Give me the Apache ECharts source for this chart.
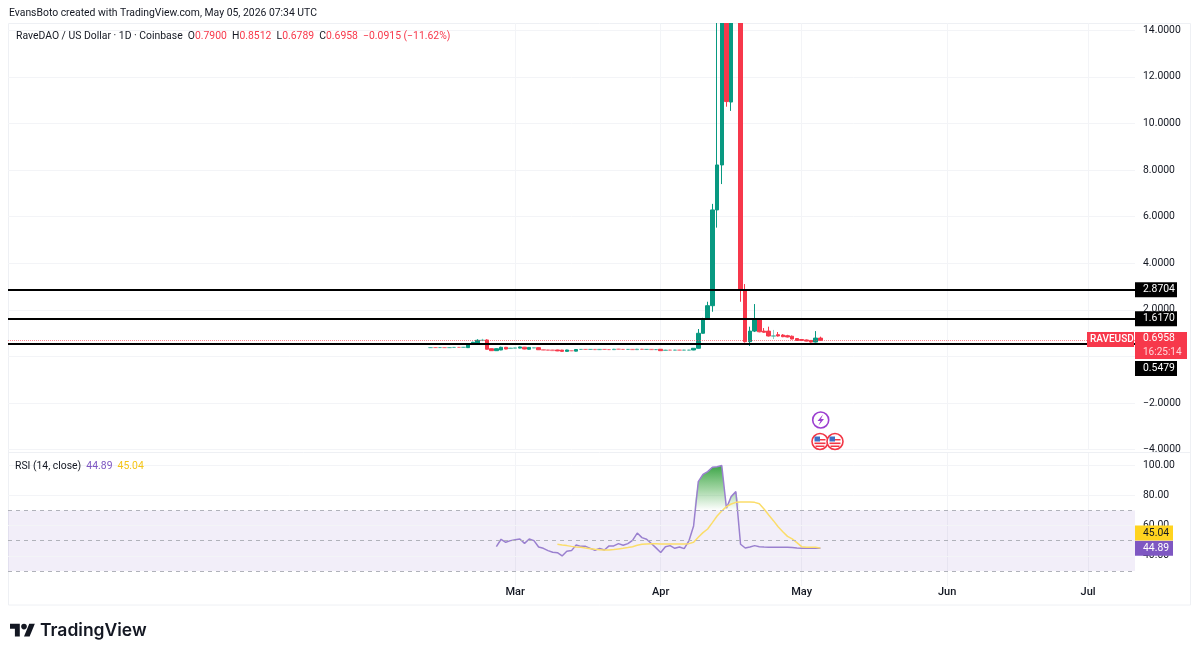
<!DOCTYPE html>
<html>
<head>
<meta charset="utf-8">
<title>RAVEUSD</title>
<script src="https://cdn.jsdelivr.net/npm/echarts@6/dist/echarts.min.js"></script>
<style>
  html, body { margin: 0; padding: 0; background: #fff; }
  #chart { width: 1200px; height: 657px; }
</style>
</head>
<body>
<div id="chart"></div>
<script>
// daily candles, 2026-02-11 to 2026-05-05 (bars above 14.3 run off the top of the pane)
const candleStart = '2026-02-11';
const opens = [
  .375, .385, .38, .385, .375, .385, .395, .39, .38, .536, .57, .695, .71, .335, .25, .28, .395, .34,
  .35, .36, .40, .31, .36, .38, .30, .29, .285, .28, .275, .22, .25, .23, .30, .31, .30, .31, .29, .31,
  .30, .29, .32, .31, .30, .31, .29, .32, .30, .31, .29, .31, .26, .28, .27, .28, .27, .27, .28, .352,
  .996, 1.61, 2.18, 6.29, 8.22, 16, 10.92, 17, 22, 2.87, .635, 1.09, 1.61, 1.09, 1.09, .87, .936, .92,
  .893, .87, .77, .73, .71, .69, .62, .79
];
const closes = [
  .385, .38, .385, .375, .385, .395, .39, .40, .536, .61, .695, .70, .31, .25, .335, .395, .32, .37,
  .375, .41, .32, .39, .38, .29, .265, .26, .25, .24, .22, .28, .24, .30, .31, .30, .31, .29, .31, .30,
  .29, .32, .31, .30, .31, .29, .32, .30, .31, .29, .30, .25, .28, .27, .28, .27, .28, .28, .352, .996,
  1.61, 2.18, 6.29, 8.22, 16, 10.94, 17, 22, 2.87, .635, 1.09, 1.61, 1.06, 1.04, .88, .89, .88, .85,
  .837, .75, .69, .69, .66, .62, .79, .6958
];
const highs = [
  .39, .395, .39, .39, .39, .40, .405, .41, .55, .63, .74, .76, .74, .34, .35, .42, .41, .38,
  .385, .42, .41, .40, .39, .39, .31, .30, .295, .29, .285, .29, .26, .31, .32, .32, .32, .32, .32, .32,
  .31, .33, .33, .32, .32, .32, .33, .33, .32, .32, .31, .32, .29, .29, .29, .29, .29, .29, .36, 1.18,
  1.66, 2.35, 6.55, 15, 17, 17, 18, 24, 24, 3.11, 1.28, 2.25, 1.63, 1.22, 1.28, 1.14, 1.05, .96,
  .93, .90, .79, .75, .73, .70, 1.09, .8512
];
const lows = [
  .37, .37, .375, .37, .37, .38, .385, .385, .37, .53, .56, .66, .30, .24, .24, .27, .31, .33,
  .34, .35, .31, .30, .35, .28, .255, .25, .24, .23, .21, .21, .23, .22, .29, .29, .29, .28, .28, .29,
  .28, .28, .30, .29, .29, .28, .28, .29, .29, .28, .28, .24, .25, .26, .26, .26, .26, .26, .27, .34,
  .98, 1.58, 1.92, 5.53, 7.40, 10.72, 10.54, 16, 2.35, .60, .45, 1.05, 1.04, 1.02, .86, .75, .86, .83,
  .82, .74, .68, .68, .65, .60, .60, .6789
];

// RSI (14) and its moving average
const rsiStart = '2026-02-25';
const rsiValues = [
  46.0, 50.9, 48.9, 50.0, 50.6, 51.1, 48.2, 51.1, 50.0, 45.8, 44.9, 43.4, 42.3, 42.05, 39.85, 43.0, 43.4,
  47.1, 46.2, 46.2, 44.9, 43.6, 44.9, 43.8, 46.5, 46.5, 48.0, 46.9, 48.0, 50.2, 55.0, 52.0, 50.9, 48.1, 45.2,
  42.2, 46.0, 46.7, 44.9, 45.8, 44.7, 49.8, 59.7, 89.0, 93.8, 95.6, 98.5, 98.9, 99.6, 71.4, 79.1, 82.4, 47.6,
  45.1, 45.8, 46.7, 46.0, 45.8, 45.7, 45.7, 45.6, 45.6, 45.6, 45.4, 45.1, 44.9, 44.9, 44.9, 45.0, 44.89
];
const maStart = '2026-03-10';
const maValues = [
  47.6, 47.1, 46.7, 46.2, 45.8, 45.6, 45.1, 44.7, 44.3, 44.0, 43.8, 43.8, 44.1, 44.5, 44.9, 45.4, 46.0, 46.9,
  47.6, 47.8, 48.0, 48.0, 47.8, 47.8, 47.8, 47.8, 47.8, 47.8, 48.0, 48.9, 52.2, 55.3, 57.7, 61.9, 66.3, 69.6,
  72.5, 74.2, 75.3, 75.5, 75.5, 75.5, 75.3, 74.4, 70.9, 66.9, 63.2, 59.2, 55.9, 52.8, 51.1, 48.7, 46.0, 45.6,
  45.6, 45.6, 45.04
];

const levels = [2.8704, 1.617, 0.5479];
const lastPrice = 0.6958;
const rsiBands = [70, 50, 30];
const monthTicks = ['2026-03-01', '2026-04-01', '2026-05-01', '2026-06-01', '2026-07-01'];
const monthLabels = ['Mar', 'Apr', 'May', 'Jun', 'Jul'];

const FONT = 'Roboto, "Noto Sans", sans-serif';
const SCALE_SIZE = 10.4;
const UP = '#089981';
const DOWN = '#F7384B';
const TEXT = '#131722';
const GRID = '#F3F4F7';

// one category per calendar day across the whole visible range
const categories = [];
for (let t = Date.UTC(2025, 10, 13); t <= Date.UTC(2026, 6, 11); t += 86400000) {
  categories.push(new Date(t).toISOString().slice(0, 10));
}

function alignTo(values, start) {
  const offset = categories.indexOf(start);
  return categories.map((d, i) => {
    const v = values[i - offset];
    return v === undefined ? '-' : v;
  });
}

const candleOffset = categories.indexOf(candleStart);
const candleData = categories.map((d, i) => {
  const j = i - candleOffset;
  if (j < 0 || j >= closes.length) return ['-', '-', '-', '-'];
  const value = [opens[j], closes[j], lows[j], highs[j]];
  // tiny bodies come out pale in the reference
  if (Math.abs(opens[j] - closes[j]) < 0.035) return { value, itemStyle: { opacity: 0.45 } };
  return value;
});

const isMonth = (index, value) => monthTicks.includes(value);

const chart = echarts.init(document.getElementById('chart'), null, { renderer: 'canvas' });

const levelLine = { color: '#000', width: 2, type: 'solid' };
const hiddenLine = { width: 0 };
function boxLabel(offsetY) {
  return {
    show: true,
    position: 'end',
    distance: 0,
    offset: [0, offsetY],
    backgroundColor: '#000',
    color: '#fff',
    fontFamily: FONT,
    fontSize: SCALE_SIZE,
    width: 34,
    height: 15,
    lineHeight: 15,
    padding: [0, 0, 0, 8],
    align: 'left'
  };
}

chart.setOption({
  animation: false,
  backgroundColor: '#fff',
  textStyle: { fontFamily: FONT },
  grid: [
    { left: 8, right: 65, top: 23.3, bottom: 207.3 },
    { left: 8, right: 65, top: 452.9, bottom: 71 }
  ],
  xAxis: [0, 1].map(i => ({
    type: 'category',
    gridIndex: i,
    data: categories,
    boundaryGap: false,
    axisLine: { show: false },
    axisTick: { show: false },
    splitLine: { show: true, interval: isMonth, lineStyle: { color: GRID, width: 1 } },
    axisLabel: i === 0 ? { show: false } : {
      show: true,
      interval: isMonth,
      margin: 1,
      color: TEXT,
      fontFamily: FONT,
      fontSize: 11,
      fontWeight: 500,
      formatter: v => monthLabels[monthTicks.indexOf(v)]
    }
  })),
  yAxis: [
    {
      type: 'value',
      gridIndex: 0,
      position: 'right',
      z: 0,
      min: -4,
      max: 14.3,
      interval: 2,
      axisLine: { show: false },
      axisTick: { show: false },
      splitLine: { lineStyle: { color: GRID }, showMaxLine: false },
      axisLabel: {
        margin: 8,
        padding: [2, 0, 0, 0],
        color: TEXT,
        fontFamily: FONT,
        fontSize: SCALE_SIZE,
        showMaxLabel: false,
        formatter: v => (v < 0 ? '\u2212' : '') + Math.abs(v).toFixed(4)
      }
    },
    {
      type: 'value',
      gridIndex: 1,
      position: 'right',
      z: 1.5,
      min: 20,
      max: 108,
      interval: 20,
      axisLine: { show: false },
      axisTick: { show: false },
      splitLine: { lineStyle: { color: GRID }, showMinLine: false, showMaxLine: false },
      axisLabel: {
        margin: 8,
        padding: [2, 0, 0, 0],
        color: TEXT,
        fontFamily: FONT,
        fontSize: SCALE_SIZE,
        showMinLabel: false,
        showMaxLabel: false,
        formatter: v => v.toFixed(2)
      }
    }
  ],
  series: [
    {
      name: 'RAVEUSD',
      type: 'candlestick',
      xAxisIndex: 0,
      yAxisIndex: 0,
      clip: true,
      barWidth: 4,
      data: candleData,
      itemStyle: { color: UP, color0: DOWN, borderColor: UP, borderColor0: DOWN, borderWidth: 1 },
      markLine: {
        silent: true,
        symbol: 'none',
        animation: false,
        data: [
          {
            yAxis: lastPrice,
            lineStyle: { color: 'rgba(247,56,75,0.6)', width: 1, type: 'dotted' },
            label: {
              show: true,
              position: 'end',
              distance: 0,
              offset: [0, 5.2],
              backgroundColor: DOWN,
              width: 44,
              height: 27,
              padding: [0, 0, 0, 8],
              align: 'left',
              formatter: () => `{a|${lastPrice.toFixed(4)}}\n{b|16:25:14}`,
              rich: {
                a: { color: '#fff', fontFamily: FONT, fontSize: SCALE_SIZE, lineHeight: 14 },
                b: { color: '#FFD5D9', fontFamily: FONT, fontSize: 10, lineHeight: 13 }
              }
            }
          },
          {
            yAxis: lastPrice,
            lineStyle: hiddenLine,
            label: {
              show: true,
              position: 'end',
              distance: 0,
              offset: [-48, -0.8],
              backgroundColor: DOWN,
              color: '#fff',
              fontFamily: FONT,
              fontSize: 10,
              fontWeight: 500,
              width: 44,
              height: 15,
              lineHeight: 15,
              padding: [0, 0, 0, 3],
              align: 'left',
              formatter: () => 'RAVEUSD'
            }
          },
          { yAxis: levels[0], lineStyle: levelLine, label: { ...boxLabel(0), formatter: () => levels[0].toFixed(4) } },
          { yAxis: levels[1], lineStyle: levelLine, label: { ...boxLabel(0), formatter: () => levels[1].toFixed(4) } },
          { yAxis: levels[2], lineStyle: levelLine, label: { ...boxLabel(24.8), formatter: () => levels[2].toFixed(4) } }
        ]
      }
    },
    {
      // overbought fill between the RSI and the 70 line
      name: 'RSI fill',
      type: 'line',
      xAxisIndex: 1,
      yAxisIndex: 1,
      symbol: 'none',
      lineStyle: { width: 0 },
      data: alignTo(rsiValues.map(v => Math.max(v, rsiBands[0])), rsiStart),
      areaStyle: {
        origin: rsiBands[0],
        opacity: 1,
        color: new echarts.graphic.LinearGradient(0, 0, 0, 1, [
          { offset: 0, color: 'rgba(60,165,72,1)' },
          { offset: 0.5, color: 'rgba(76,175,80,0.55)' },
          { offset: 1, color: 'rgba(76,175,80,0)' }
        ])
      },
      z: 2
    },
    {
      name: 'RSI',
      type: 'line',
      xAxisIndex: 1,
      yAxisIndex: 1,
      symbol: 'none',
      data: alignTo(rsiValues, rsiStart),
      lineStyle: { color: '#9A80CF', width: 1.5 },
      z: 3,
      markArea: {
        silent: true,
        itemStyle: { color: 'rgba(126,87,194,0.1)' },
        data: [[{ yAxis: rsiBands[0] }, { yAxis: rsiBands[2] }]]
      },
      markLine: {
        silent: true,
        symbol: 'none',
        animation: false,
        label: { show: false },
        lineStyle: { color: '#B0B2BA', width: 1, type: [4, 4] },
        data: [
          ...rsiBands.map(v => ({ yAxis: v })),
          {
            yAxis: rsiValues[rsiValues.length - 1],
            lineStyle: hiddenLine,
            label: {
              show: true,
              position: 'end',
              distance: 0,
              backgroundColor: '#7E57C2',
              color: '#fff',
              fontFamily: FONT,
              fontSize: SCALE_SIZE,
              width: 30,
              height: 15,
              lineHeight: 15,
              padding: [0, 0, 0, 8],
              align: 'left',
              formatter: () => rsiValues[rsiValues.length - 1].toFixed(2)
            }
          }
        ]
      }
    },
    {
      name: 'RSI MA',
      type: 'line',
      xAxisIndex: 1,
      yAxisIndex: 1,
      symbol: 'none',
      data: alignTo(maValues, maStart),
      lineStyle: { color: '#FBDD6A', width: 1.5 },
      z: 4,
      markLine: {
        silent: true,
        symbol: 'none',
        animation: false,
        data: [{
          yAxis: maValues[maValues.length - 1],
          lineStyle: hiddenLine,
          label: {
            show: true,
            position: 'end',
            distance: 0,
            offset: [0, -15.2],
            backgroundColor: '#FFD31F',
            color: TEXT,
            fontFamily: FONT,
            fontSize: SCALE_SIZE,
            width: 30,
            height: 15,
            lineHeight: 15,
            padding: [0, 0, 0, 8],
            align: 'left',
            formatter: () => maValues[maValues.length - 1].toFixed(2)
          }
        }]
      }
    }
  ],
  graphic: {
    elements: [
      // candles above the pane are cut off here
      { type: 'rect', z: 5, silent: true, shape: { x: 0, y: 0, width: 1200, height: 23 }, style: { fill: '#fff' } },
      // covers the part of the price scale that runs into the RSI pane
      { type: 'rect', z: 1, silent: true, shape: { x: 1136, y: 452, width: 54, height: 152 }, style: { fill: '#fff' } },
      // pane frame
      { type: 'rect', z: 0, silent: true, shape: { x: 8.5, y: 23.5, width: 1182, height: 581.5 }, style: { fill: 'none', stroke: '#EEF0F4', lineWidth: 1 } },
      { type: 'line', z: 1, silent: true, shape: { x1: 8, y1: 452.5, x2: 1191, y2: 452.5 }, style: { stroke: '#EEF0F4', lineWidth: 1 } },
      {
        type: 'text', z: 6, silent: true, x: 9, y: 8,
        style: { text: 'EvansBoto created with TradingView.com, May 05, 2026 07:34 UTC', fill: TEXT, font: '10.4px ' + FONT }
      },
      {
        type: 'text', z: 6, silent: true, x: 16, y: 31,
        style: {
          text: 'RaveDAO / US Dollar \u00b7 1D \u00b7 Coinbase  {k|O}{v|0.7900}  {k|H}{v|0.8512}  {k|L}{v|0.6789}  {k|C}{v|0.6958}  {v|\u22120.0915 (\u221211.62%)}',
          fill: TEXT,
          font: '10.4px ' + FONT,
          rich: {
            k: { fill: TEXT, font: '10.4px ' + FONT },
            v: { fill: DOWN, font: '10.4px ' + FONT }
          }
        }
      },
      {
        type: 'text', z: 6, silent: true, x: 15, y: 461,
        style: {
          text: 'RSI (14, close)  {p|44.89}  {y|45.04}',
          fill: TEXT,
          font: '10.4px ' + FONT,
          rich: {
            p: { fill: '#7E57C2', font: '10.4px ' + FONT },
            y: { fill: '#F5C518', font: '10.4px ' + FONT }
          }
        }
      },
      // event icons
      { type: 'circle', z: 6, silent: true, shape: { cx: 820.7, cy: 420, r: 8 }, style: { fill: '#fff', stroke: '#9C3FD0', lineWidth: 1.6 } },
      { type: 'polygon', z: 6, silent: true, shape: { points: [[823, 414.5], [817.5, 421], [820.5, 421], [818.5, 425.5], [824, 419], [821, 419]] }, style: { fill: '#9C3FD0' } },
      ...[820, 835].map(cx => ({
        type: 'group', z: 6, silent: true, x: cx, y: 441.5,
        children: [
          { type: 'circle', z: 6, shape: { cx: 0, cy: 0, r: 8 }, style: { fill: '#fff', stroke: '#F23645', lineWidth: 1.6 } },
          { type: 'rect', z: 6, shape: { x: -5.5, y: 1, width: 11, height: 1.6 }, style: { fill: '#F23645' } },
          { type: 'rect', z: 6, shape: { x: -4.5, y: 4, width: 9, height: 1.5 }, style: { fill: '#F23645' } },
          { type: 'rect', z: 6, shape: { x: 0, y: -2.5, width: 5.5, height: 1.5 }, style: { fill: '#F23645' } },
          { type: 'rect', z: 6, shape: { x: -5.5, y: -5, width: 5.5, height: 5 }, style: { fill: '#3F6FC4' } }
        ]
      })),
      // TradingView logo
      {
        type: 'group', z: 6, silent: true, x: 10, y: 621, scaleX: 0.7, scaleY: 0.7,
        children: [
          { type: 'polygon', shape: { points: [[14, 22], [7, 22], [7, 11], [0, 11], [0, 4], [14, 4]] }, style: { fill: '#131722' } },
          { type: 'polygon', shape: { points: [[28, 22], [20, 22], [27.5, 4], [35.5, 4]] }, style: { fill: '#131722' } },
          { type: 'circle', shape: { cx: 20, cy: 8, r: 4 }, style: { fill: '#131722' } }
        ]
      },
      {
        type: 'text', z: 6, silent: true, x: 40, y: 622,
        style: { text: 'TradingView', fill: '#131722', font: '600 17.5px Inter, ' + FONT }
      }
    ]
  }
});
</script>
</body>
</html>
